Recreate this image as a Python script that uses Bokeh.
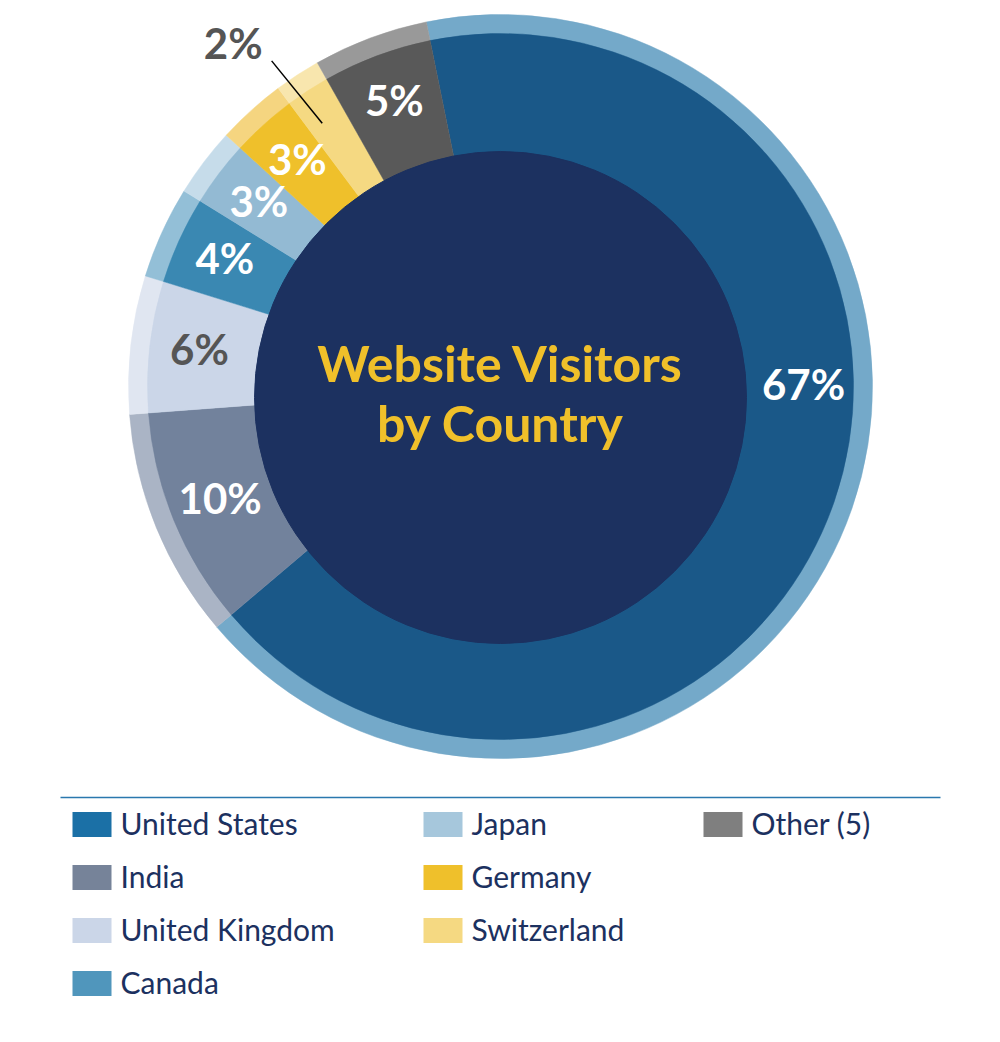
import math
from bokeh.plotting import figure
from bokeh.models import Range1d
from bokeh.core.properties import value
from bokeh.embed import file_html
from bokeh.resources import INLINE

# ---------------- data ----------------
countries = ["United States", "India", "United Kingdom", "Canada",
             "Japan", "Germany", "Switzerland", "Other (5)"]
shares = [67, 10, 6, 4, 3, 3, 2, 5]
share_labels = ["67%", "10%", "6%", "4%", "3%", "3%", "2%", "5%"]
title_lines = ["Website Visitors", "by Country"]

# ---------------- styles ----------------
slice_colors = ["#1a5888", "#72829c", "#cbd6e8", "#3a88b2",
                "#93bad3", "#efc02b", "#f5d982", "#595959"]
band_colors = ["#74a9c9", "#aab4c5", "#e0e6f1", "#93bfd7",
               "#c6dcea", "#f5d580", "#f8e6ae", "#999999"]
legend_colors = ["#1b70a6", "#768399", "#cbd6e8", "#5096bc",
                 "#a6c7dc", "#efc02b", "#f5d982", "#7f7f7f"]
label_colors = ["white", "white", "#555555", "white",
                "white", "white", "#555555", "white"]
legend_col = [0, 0, 0, 0, 1, 1, 1, 2]
legend_row = [0, 1, 2, 3, 0, 1, 2, 0]

NAVY = "#1c3160"
GOLD = "#f0c02a"
FONT = "Lato"

START_DEG = -11.5          # clockwise from 12 o'clock
R_IN, R_MID, R_OUT = 246, 353, 372
R_LABEL = 303
DISC_DY = -11              # centre disc sits slightly lower than the ring
TXT_ADJ = 3                # middle-baseline visual correction

# page-pixel helpers (centre of ring at page (500, 386))
CX, CY = 500, 386
def py(page_y):
    return CY - page_y
def px(page_x):
    return page_x - CX

W, H = 984, 1026
p = figure(width=W, height=H, output_backend="svg", toolbar_location=None,
           x_range=Range1d(px(0), px(W)), y_range=Range1d(py(H), py(0)),
           x_axis_type=None, y_axis_type=None, min_border=0,
           background_fill_color="white", border_fill_color="white")
p.outline_line_color = None
p.xgrid.visible = False
p.ygrid.visible = False

total = float(sum(shares))
cum = START_DEG
starts, ends, mids = [], [], []
for s in shares:
    span = s / total * 360.0
    starts.append(cum)
    ends.append(cum + span)
    mids.append(cum + span / 2)
    cum += span

def to_bokeh(theta_deg):
    return math.radians(90.0 - theta_deg)

b_start = [to_bokeh(e) for e in ends]
b_end = [to_bokeh(s) for s in starts]

# outer light band
p.annular_wedge(x=0, y=0, inner_radius=R_MID - 1, outer_radius=R_OUT,
                start_angle=b_start, end_angle=b_end,
                fill_color=band_colors, line_color=band_colors, line_width=0.5)
# main slices
p.annular_wedge(x=0, y=0, inner_radius=R_IN - 30, outer_radius=R_MID,
                start_angle=b_start, end_angle=b_end,
                fill_color=slice_colors, line_color=slice_colors, line_width=0.5)
# centre disc
p.circle(x=[0], y=[DISC_DY], radius=R_IN, fill_color=NAVY, line_color=NAVY)

# percentage labels
biggest = shares.index(max(shares))
lx, ly, lt, lc = [], [], [], []
for i, s in enumerate(shares):
    if s < 3:
        continue
    th = 90.0 if i == biggest else mids[i]
    x = R_LABEL * math.sin(math.radians(th))
    y = R_LABEL * math.cos(math.radians(th))
    lx.append(x)
    ly.append(y + TXT_ADJ)
    lt.append(share_labels[i])
    lc.append(label_colors[i])
p.text(x=lx, y=ly, text=lt, text_color=lc, text_font=value(FONT),
       text_font_style="bold", text_font_size="42px",
       text_align="center", text_baseline="middle")

# small slices: outside label with leader line
for i, s in enumerate(shares):
    if s >= 3:
        continue
    th0 = math.radians(mids[i] - 1.0)
    th1 = math.radians(mids[i] - 2.0)
    r0, r1 = 318, 398
    x0, y0 = r0 * math.sin(th0), r0 * math.cos(th0)
    x1, y1 = r1 * math.sin(th1), r1 * math.cos(th1)
    p.line(x=[x0, x1], y=[y0, y1], line_color="black", line_width=1.5)
    p.text(x=[x1 - 9], y=[y1 + 15 + TXT_ADJ], text=[share_labels[i]],
           text_color=label_colors[i], text_font=value(FONT),
           text_font_style="bold", text_font_size="42px",
           text_align="right", text_baseline="middle")

# centre title
p.text(x=[0, 0], y=[py(365) + TXT_ADJ, py(425) + TXT_ADJ], text=title_lines,
       text_color=GOLD, text_font=value(FONT), text_font_style="bold",
       text_font_size="50px", text_align="center", text_baseline="middle")

# legend separator line
p.line(x=[px(60), px(940)], y=[py(797), py(797)], line_color="#2a78ae", line_width=1.5)

# legend
col_x = [72, 423, 703]
row_y = [824, 877, 930, 983]
sq_w, sq_h = 39, 25
left = [px(col_x[c]) for c in legend_col]
right = [px(col_x[c] + sq_w) for c in legend_col]
top = [py(row_y[r] - sq_h / 2) for r in legend_row]
bottom = [py(row_y[r] + sq_h / 2) for r in legend_row]
p.quad(left=left, right=right, top=top, bottom=bottom,
       fill_color=legend_colors, line_color=None)
p.text(x=[px(col_x[c] + 48) for c in legend_col],
       y=[py(row_y[r]) + 2 for r in legend_row],
       text=countries, text_color=NAVY, text_font=value(FONT),
       text_font_size="30px", text_align="left", text_baseline="middle")

open("out.html", "w").write(file_html(p, INLINE))
